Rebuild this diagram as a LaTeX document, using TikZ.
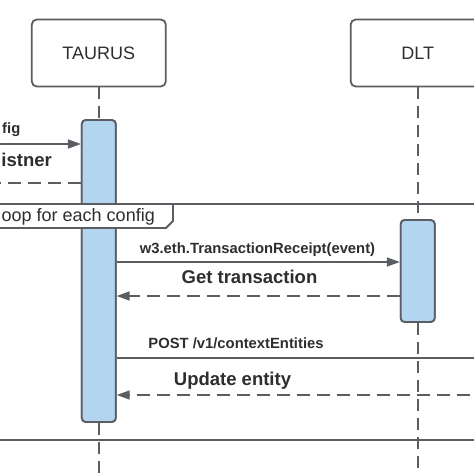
\documentclass[tikz,border=0pt]{standalone}
\usepackage{fontspec}
\setmainfont{Liberation Sans}
\usetikzlibrary{arrows.meta}
\definecolor{strk}{HTML}{5A5D62}
\definecolor{actfill}{HTML}{B4D5F0}
\definecolor{txt}{HTML}{2E2E2E}
\begin{document}
\begin{tikzpicture}[x=1pt,y=-1pt,
  participant/.style={draw=strk, line width=1.8pt, rounded corners=5pt, minimum width=134pt, minimum height=67pt, fill=white, text=txt, font=\fontsize{18}{20}\selectfont, inner sep=0pt},
  actbox/.style={draw=strk, fill=actfill, rounded corners=4pt, minimum width=34pt, line width=1.8pt, inner sep=0pt},
  lifeline/.style={draw=strk, line width=1.6pt, dash pattern=on 12pt off 7pt},
  msg/.style={draw=strk, line width=1.6pt, -{Triangle[length=13pt,width=9pt]}},
  reply/.style={msg, dash pattern=on 13pt off 7pt},
  frameline/.style={draw=strk, line width=1.8pt},
  smalllbl/.style={text=txt, font=\bfseries\fontsize{14.8}{16}\selectfont, inner sep=0pt, anchor=base},
  biglbl/.style={text=txt, font=\bfseries\fontsize{18.5}{20}\selectfont, inner sep=0pt, anchor=base},
  looplbl/.style={text=txt, font=\fontsize{18}{20}\selectfont, inner sep=0pt, anchor=base west}
]
\useasboundingbox (0,0) rectangle (474,474);
\clip (0,0) rectangle (474,474);
\fill[white] (0,0) rectangle (474,474);

% participants
\node[participant] (taurus) at (98.8,53) {TAURUS};
\node[participant] (dlt) at (417.7,53) {DLT};

% activations (placed first so lifelines can attach)
\node[actbox, minimum height=302pt] (actT) at (98.8,271) {};
\node[actbox, minimum height=102pt] (actD) at (417.7,271) {};

% lifelines
\coordinate (tEnd) at (98.8,480);
\coordinate (dEnd) at (417.7,480);
\draw[lifeline] (taurus.south) -- (actT.north);
\draw[lifeline] (actT.south) -- (tEnd);
\draw[lifeline] (dlt.south) -- (actD.north);
\draw[lifeline] (actD.south) -- (dEnd);

% redraw activations on top of lifelines
\node[actbox, minimum height=302pt] at (98.8,271) {};
\node[actbox, minimum height=102pt] at (417.7,271) {};

% incoming config message
\coordinate (cfgL) at (-10,144);
\draw[msg] (cfgL) -- (actT.west |- cfgL);
\node[smalllbl, anchor=base east] (cfglbl) at (20.5,133) {fig};

% listener reply
\coordinate (lisL) at (-22,182.7);
\draw[reply] (actT.west |- lisL) -- (lisL);
\node[biglbl, anchor=base east] (lislbl) at (52,166) {istner};

% w3 message
\coordinate (w3y) at (0,262);
\draw[msg] (actT.east |- w3y) -- (actD.west |- w3y);
\node[smalllbl] (w3lbl) at (257.5,253) {w3.eth.TransactionReceipt(event)};

% get transaction reply
\coordinate (gty) at (0,296);
\draw[reply] (actD.west |- gty) -- (actT.east |- gty);
\node[biglbl] (gtlbl) at (249.5,283) {Get transaction};

% POST message
\coordinate (postR) at (490,358);
\draw[msg] (actT.east |- postR) -- (postR);
\node[smalllbl] (postlbl) at (236,348) {POST /v1/contextEntities};

% update entity reply
\coordinate (updR) at (490,395);
\draw[reply] (updR) -- (actT.east |- updR);
\node[biglbl] (updlbl) at (232.5,385) {Update entity};

% loop frame
\draw[frameline] (-5,204) -- (480,204);
\draw[frameline, fill=white] (-5,204) -- (173,204) -- (173,221) -- (166,228) -- (-5,228);
\node[looplbl] (loop) at (1.5,221) {oop for each config};
\draw[frameline] (-5,440) -- (480,440);
\end{tikzpicture}
\end{document}
